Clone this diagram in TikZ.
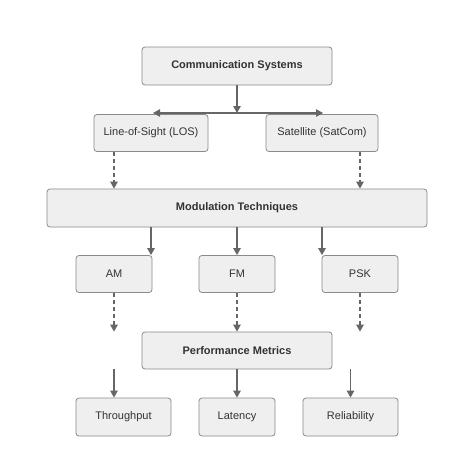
\documentclass[tikz,border=0pt]{standalone}
\usepackage{fontspec}
\setmainfont{Liberation Sans}
\usepackage{xcolor}
\usetikzlibrary{arrows.meta}
\definecolor{boxfill}{HTML}{EFEFEF}
\definecolor{boxline}{HTML}{8A8A8A}
\definecolor{arrline}{HTML}{666666}
\definecolor{txt}{HTML}{333333}

\begin{document}
\begin{tikzpicture}[x=1pt, y=-1pt, every node/.style={rectangle, rounded corners=3pt, draw=boxline, line width=0.8pt, fill=boxfill, text=txt, inner sep=0pt, minimum height=37pt, font=\fontsize{11}{13}\selectfont}, head/.style={font=\fontsize{11}{13}\selectfont\bfseries}, arr/.style={draw=arrline, line width=1.2pt, -{Triangle[length=7pt,width=7.5pt]}}, dasharr/.style={arr, dash pattern=on 4pt off 3pt}]
  \fill[white] (0,0) rectangle (474,474);
  \useasboundingbox (0,0) rectangle (474,474);
  % top
  \node[head, minimum width=190pt, minimum height=38pt](cs) at (237,66){Communication Systems};
  \node[minimum width=114pt](los) at (151,133){Line-of-Sight (LOS)};
  \node[minimum width=112pt](sat) at (322,133){Satellite (SatCom)};
  \node[head, minimum width=380pt, minimum height=38pt](mt) at (237,208){Modulation Techniques};
  \node[minimum width=76pt](am) at (114,274){AM};
  \node[minimum width=76pt](fm) at (237,274){FM};
  \node[minimum width=76pt](psk) at (360,274){PSK};
  \node[head, minimum width=190pt](pm) at (237,350.5){Performance Metrics};
  \node[minimum width=95pt, minimum height=38pt](tp) at (123.5,417){Throughput};
  \node[minimum width=76pt, minimum height=38pt](lat) at (237,417){Latency};
  \node[minimum width=95pt, minimum height=38pt](rel) at (350.5,417){Reliability};
  \coordinate(split) at (237,113);
  \coordinate(splitl) at (153,113);
  \coordinate(splitr) at (323,113);
  % connectors
  \draw[arr] (cs) -- (split);
  \draw[arr] (split) -- (splitl);
  \draw[arr] (split) -- (splitr);
  \draw[dasharr] (los.south -| am) -- (mt.north -| am);
  \draw[dasharr] (sat.south -| psk) -- (mt.north -| psk);
  \draw[arr] (mt.south -| los) -- (am.north -| los);
  \draw[arr] (mt) -- (fm);
  \draw[arr] (mt.south -| sat) -- (psk.north -| sat);
  \draw[dasharr] (am) -- (pm.north -| am);
  \draw[dasharr] (fm) -- (pm);
  \draw[dasharr] (psk) -- (pm.north -| psk);
  \draw[arr] (pm.south -| am) -- (tp.north -| am);
  \draw[arr] (pm) -- (lat);
  \draw[arr] (pm.south -| rel) -- (rel);
\end{tikzpicture}
\end{document}
